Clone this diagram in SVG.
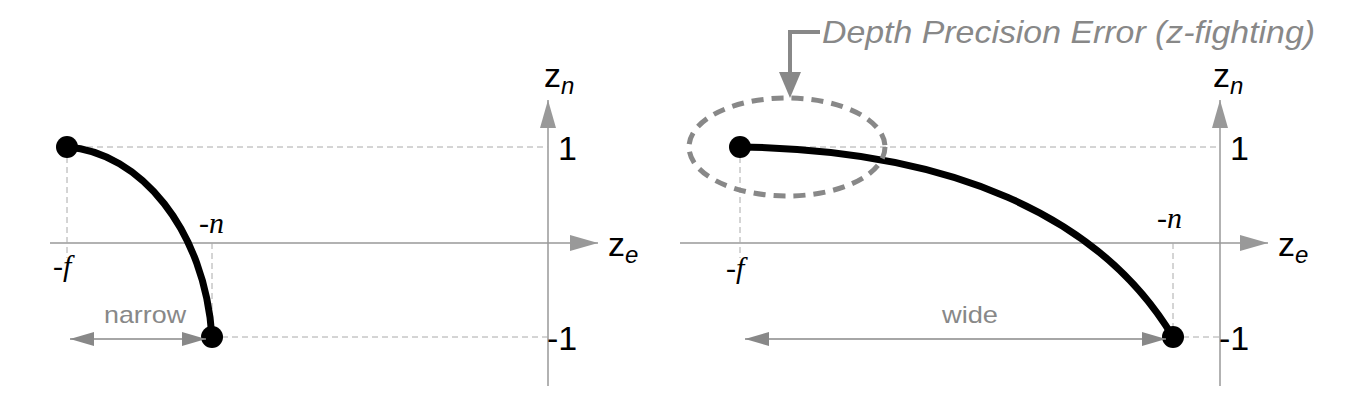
<svg xmlns="http://www.w3.org/2000/svg" width="1360" height="406" viewBox="0 0 1360 406">
<style>
.ax{stroke:#999;stroke-width:1.5;fill:none}
.dash{stroke:#aaa;stroke-width:1;stroke-dasharray:6 4;fill:none}
.curve{stroke:#000;stroke-width:7;fill:none}
text{font-family:"Liberation Sans",Arial,Helvetica,sans-serif}
.t{fill:#000;font-size:34px}
.g{fill:#888;font-size:24px}
.m{font-family:"Liberation Serif","Times New Roman",Times,serif;font-style:italic;font-size:30px;fill:#000}
</style>
<defs>
<marker id="ah" markerWidth="28" markerHeight="16" refX="28" refY="8" orient="auto" markerUnits="userSpaceOnUse"><path d="M0,0 L28,8 L0,16 Z" fill="#999"/></marker>
<marker id="ah2" markerWidth="24" markerHeight="14" refX="24" refY="7" orient="auto-start-reverse" markerUnits="userSpaceOnUse"><path d="M0,0 L24,7 L0,14 Z" fill="#888"/></marker>
</defs>
<g id="left">
<line class="ax" x1="50" y1="243" x2="598" y2="243" marker-end="url(#ah)"/>
<line class="ax" x1="548" y1="386" x2="548" y2="100" marker-end="url(#ah)"/>
<path class="dash" d="M67,147 H548 M67,147 V258 M212,243 V337 M212,337 H548"/>
<path class="curve" d="M67,147 C140,152 205,230 212,337"/>
<circle cx="67" cy="147" r="11"/>
<circle cx="212" cy="337" r="11"/>
<line x1="70" y1="339" x2="206" y2="339" stroke="#888" stroke-width="1.5" marker-start="url(#ah2)" marker-end="url(#ah2)"/>
<text class="g" x="145" y="323" text-anchor="middle" textLength="82" lengthAdjust="spacingAndGlyphs">narrow</text>
<text class="t" x="544" y="87">z<tspan font-size="24" font-style="italic" dy="7">n</tspan></text>
<text class="t" x="608" y="256">z<tspan font-size="24" font-style="italic" dy="7">e</tspan></text>
<text class="t" x="558" y="160">1</text>
<text class="t" x="547" y="350">-1</text>
<text class="m" x="53" y="276">-f</text>
<text class="m" x="199" y="233">-n</text>
</g>
<g id="right">
<line class="ax" x1="680" y1="243" x2="1268" y2="243" marker-end="url(#ah)"/>
<line class="ax" x1="1220" y1="386" x2="1220" y2="100" marker-end="url(#ah)"/>
<path class="dash" d="M740,147 H1220 M740,147 V258 M1173,243 V337 M1173,337 H1220"/>
<path class="curve" d="M740,147 C950,150 1100,215 1173,337"/>
<circle cx="740" cy="147" r="11"/>
<circle cx="1173" cy="337" r="11"/>
<ellipse cx="787" cy="147" rx="98" ry="49" fill="none" stroke="#888" stroke-width="5" stroke-dasharray="12 8"/>
<line x1="745" y1="339" x2="1166" y2="339" stroke="#888" stroke-width="1.5" marker-start="url(#ah2)" marker-end="url(#ah2)"/>
<text class="g" x="970" y="323" text-anchor="middle" textLength="56" lengthAdjust="spacingAndGlyphs">wide</text>
<path d="M820,32 H790 V75" stroke="#888" stroke-width="4" fill="none"/>
<path d="M779,72 L801,72 L790,98 Z" fill="#888"/>
<text x="822" y="43" font-style="italic" font-size="32" fill="#888" textLength="493" lengthAdjust="spacingAndGlyphs">Depth Precision Error (z-fighting)</text>
<text class="t" x="1213" y="87">z<tspan font-size="24" font-style="italic" dy="7">n</tspan></text>
<text class="t" x="1278" y="256">z<tspan font-size="24" font-style="italic" dy="7">e</tspan></text>
<text class="t" x="1230" y="160">1</text>
<text class="t" x="1219" y="350">-1</text>
<text class="m" x="726" y="278">-f</text>
<text class="m" x="1157" y="228">-n</text>
</g>
</svg>
